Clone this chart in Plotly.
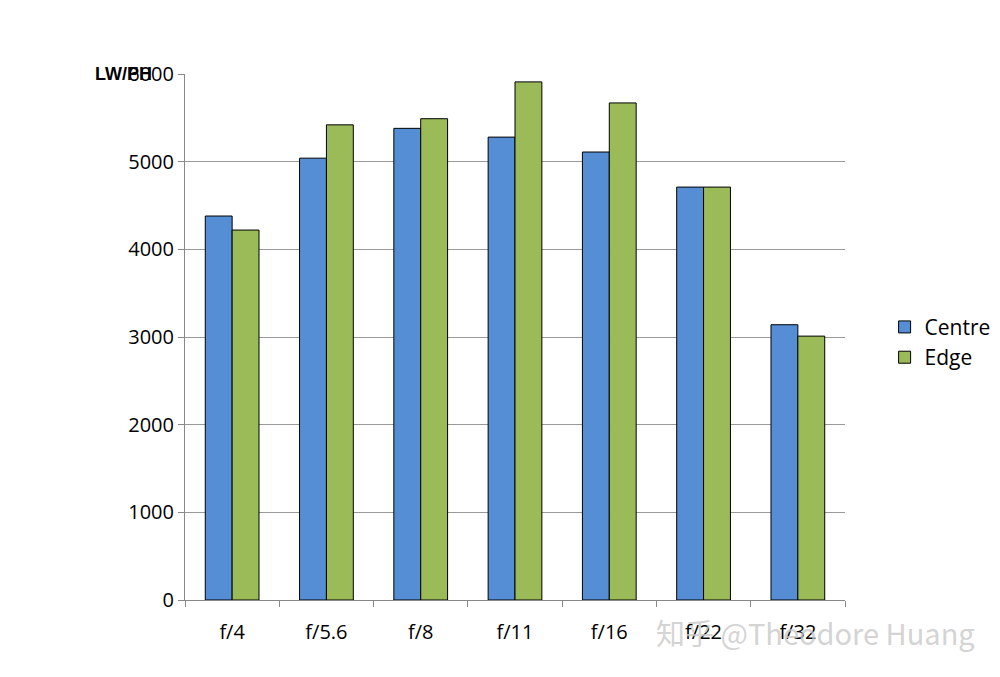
import plotly.graph_objects as go

categories = ["f/4", "f/5.6", "f/8", "f/11", "f/16", "f/22", "f/32"]
centre = [4380, 5040, 5380, 5280, 5110, 4710, 3140]
edge = [4220, 5420, 5490, 5910, 5670, 4710, 3010]

fig = go.Figure()
fig.add_bar(x=categories, y=centre, name="Centre", marker=dict(color="#558ED5", line=dict(color="black", width=1)))
fig.add_bar(x=categories, y=edge, name="Edge", marker=dict(color="#9BBB59", line=dict(color="black", width=1)))

fig.update_layout(
    width=1000, height=677, plot_bgcolor="white", paper_bgcolor="white",
    margin=dict(l=177, r=161, t=66, b=85),
    bargap=0.43, bargroupgap=0,
    font=dict(family="Open Sans", size=20, color="black"),
    legend=dict(x=1.06, y=0.49, xanchor="left", yanchor="middle", font=dict(size=21), tracegroupgap=12),
    showlegend=True,
)
fig.update_xaxes(showline=True, linecolor="#888", ticks="outside", tickson="boundaries", ticklen=6, tickcolor="#888",
                 showgrid=False, ticklabelstandoff=14)
fig.update_yaxes(range=[0, 6000], dtick=1000, showgrid=True, gridcolor="#999", showline=True, linecolor="#888",
                 ticks="outside", ticklen=6, tickcolor="#888", zeroline=False)
fig.add_annotation(text="<b>LW/PH</b>", xref="paper", yref="paper", x=-0.14, y=1.0, showarrow=False,
                   xanchor="left", yanchor="middle", font=dict(size=18, family="Liberation Sans"))
fig.add_annotation(text="知乎 @Theodore Huang", xref="paper", yref="paper", x=1.2, y=-0.06, showarrow=False,
                   xanchor="right", yanchor="middle", font=dict(size=29, color="rgba(200,200,200,0.8)", family="Noto Sans CJK SC"))
fig.write_html("out.html")
